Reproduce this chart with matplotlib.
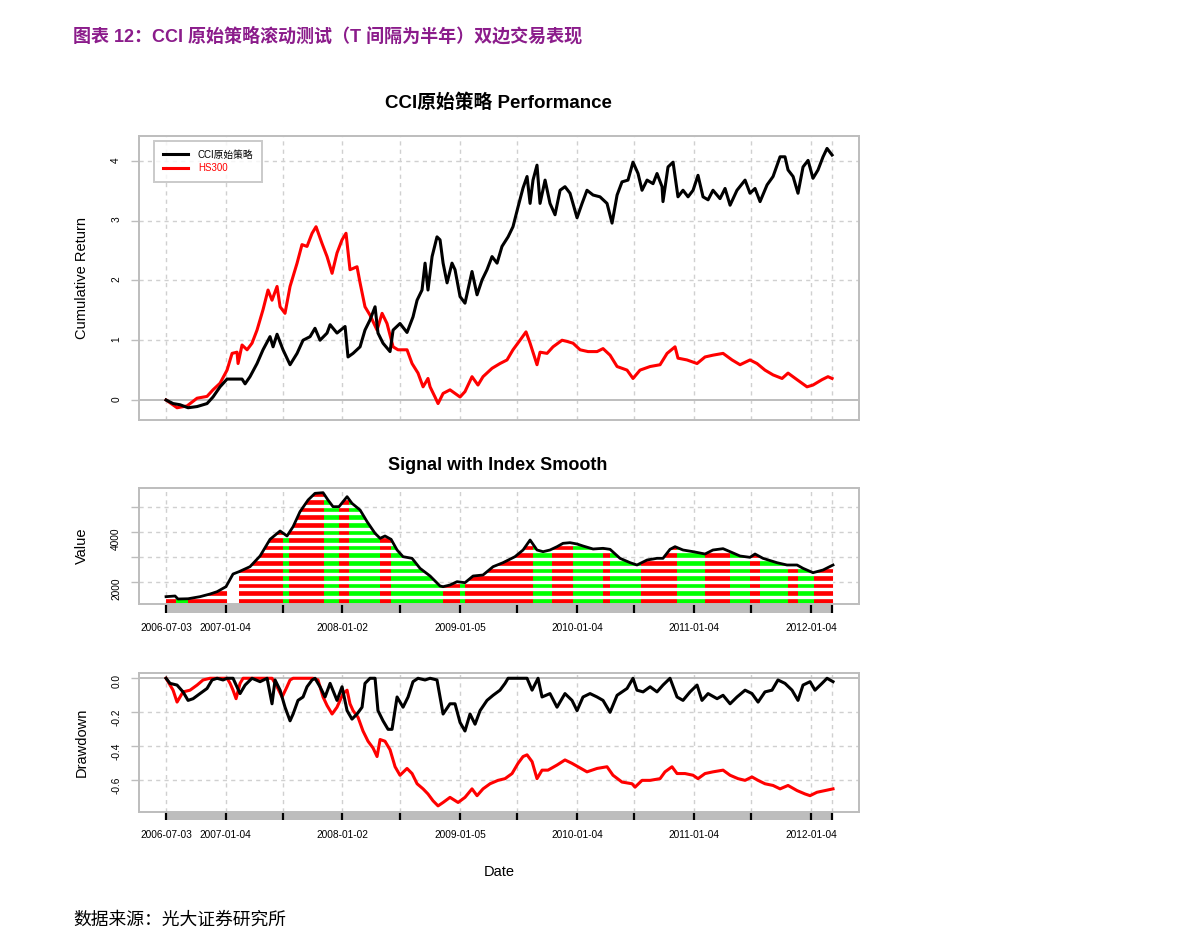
import datetime as dt
import numpy as np
import matplotlib
matplotlib.use("Agg")
import matplotlib.pyplot as plt
import matplotlib.transforms as mtransforms
from matplotlib.patches import Rectangle
from matplotlib.lines import Line2D

plt.rcParams['font.family'] = ['Liberation Sans', 'Noto Sans CJK SC']

# ---------------- data (time as decimal year) ----------------
cci_cum = [(2006.500, 0.00), (2006.560, -0.06), (2006.620, -0.08), (2006.688, -0.13), (2006.765, -0.11),
           (2006.850, -0.06), (2006.901, 0.05), (2006.961, 0.22), (2007.021, 0.35), (2007.072, 0.35),
           (2007.149, 0.35), (2007.175, 0.27), (2007.217, 0.39), (2007.277, 0.61), (2007.328, 0.84),
           (2007.388, 1.06), (2007.414, 0.89), (2007.448, 1.10), (2007.499, 0.84), (2007.559, 0.59),
           (2007.619, 0.78), (2007.670, 1.00), (2007.730, 1.06), (2007.772, 1.20), (2007.815, 1.00),
           (2007.875, 1.12), (2007.901, 1.26), (2007.960, 1.12), (2008.029, 1.23), (2008.054, 0.72),
           (2008.097, 0.78), (2008.157, 0.89), (2008.199, 1.17), (2008.242, 1.34), (2008.285, 1.56),
           (2008.310, 1.12), (2008.353, 0.95), (2008.413, 0.81), (2008.439, 1.17), (2008.498, 1.28),
           (2008.558, 1.13), (2008.609, 1.39), (2008.644, 1.67), (2008.686, 1.84), (2008.712, 2.29),
           (2008.737, 1.84), (2008.772, 2.40), (2008.814, 2.73), (2008.840, 2.68), (2008.866, 2.29),
           (2008.900, 1.96), (2008.942, 2.29), (2008.968, 2.18), (2009.011, 1.73), (2009.053, 1.62),
           (2009.113, 2.15), (2009.156, 1.76), (2009.199, 2.01), (2009.241, 2.18), (2009.284, 2.40),
           (2009.327, 2.29), (2009.369, 2.57), (2009.421, 2.73), (2009.463, 2.90), (2009.506, 3.23),
           (2009.549, 3.55), (2009.583, 3.74), (2009.609, 3.29), (2009.634, 3.68), (2009.668, 3.93),
           (2009.694, 3.29), (2009.737, 3.68), (2009.779, 3.29), (2009.822, 3.10), (2009.865, 3.51),
           (2009.907, 3.57), (2009.950, 3.46), (2010.010, 3.05), (2010.053, 3.29), (2010.095, 3.51),
           (2010.147, 3.43), (2010.206, 3.40), (2010.266, 3.29), (2010.309, 2.96), (2010.352, 3.43),
           (2010.394, 3.65), (2010.445, 3.68), (2010.488, 3.98), (2010.531, 3.79), (2010.565, 3.51),
           (2010.608, 3.68), (2010.659, 3.62), (2010.693, 3.79), (2010.736, 3.57), (2010.744, 3.32),
           (2010.787, 3.90), (2010.830, 3.98), (2010.872, 3.40), (2010.915, 3.51), (2010.958, 3.40),
           (2011.001, 3.51), (2011.043, 3.76), (2011.086, 3.40), (2011.129, 3.35), (2011.171, 3.51),
           (2011.231, 3.37), (2011.274, 3.54), (2011.317, 3.26), (2011.376, 3.51), (2011.445, 3.68),
           (2011.487, 3.46), (2011.530, 3.54), (2011.573, 3.32), (2011.633, 3.60), (2011.684, 3.74),
           (2011.744, 4.07), (2011.786, 4.07), (2011.812, 3.85), (2011.855, 3.74), (2011.897, 3.46),
           (2011.940, 3.90), (2011.983, 4.01), (2012.025, 3.71), (2012.068, 3.85), (2012.111, 4.07),
           (2012.145, 4.21), (2012.188, 4.10)]

hs300_cum = [(2006.500, 0.00), (2006.594, -0.13), (2006.679, -0.10), (2006.765, 0.03), (2006.850, 0.06),
             (2006.901, 0.17), (2006.961, 0.28), (2007.021, 0.50), (2007.064, 0.78), (2007.106, 0.80),
             (2007.115, 0.61), (2007.149, 0.92), (2007.192, 0.84), (2007.234, 0.95), (2007.277, 1.17),
             (2007.328, 1.51), (2007.371, 1.84), (2007.405, 1.67), (2007.448, 1.90), (2007.474, 1.56),
             (2007.516, 1.45), (2007.559, 1.90), (2007.619, 2.29), (2007.661, 2.60), (2007.704, 2.57),
             (2007.747, 2.79), (2007.781, 2.90), (2007.832, 2.62), (2007.875, 2.40), (2007.918, 2.12),
             (2007.960, 2.46), (2008.003, 2.68), (2008.037, 2.79), (2008.071, 2.18), (2008.131, 2.23),
             (2008.157, 1.96), (2008.199, 1.56), (2008.242, 1.42), (2008.302, 1.17), (2008.345, 1.45),
             (2008.387, 1.28), (2008.439, 0.89), (2008.481, 0.84), (2008.558, 0.84), (2008.601, 0.61),
             (2008.652, 0.45), (2008.695, 0.22), (2008.737, 0.36), (2008.755, 0.22), (2008.797, 0.05),
             (2008.823, -0.06), (2008.866, 0.11), (2008.925, 0.17), (2008.968, 0.11), (2009.011, 0.05),
             (2009.053, 0.14), (2009.113, 0.39), (2009.164, 0.25), (2009.207, 0.39), (2009.284, 0.53),
             (2009.352, 0.61), (2009.412, 0.67), (2009.463, 0.84), (2009.523, 1.00), (2009.574, 1.14),
             (2009.609, 0.95), (2009.668, 0.59), (2009.694, 0.80), (2009.754, 0.78), (2009.805, 0.89),
             (2009.882, 1.00), (2009.925, 0.98), (2009.976, 0.95), (2010.036, 0.84), (2010.104, 0.81),
             (2010.181, 0.81), (2010.232, 0.86), (2010.292, 0.75), (2010.352, 0.56), (2010.437, 0.50),
             (2010.488, 0.36), (2010.548, 0.50), (2010.634, 0.56), (2010.719, 0.59), (2010.779, 0.78),
             (2010.847, 0.89), (2010.872, 0.70), (2010.949, 0.67), (2011.035, 0.61), (2011.103, 0.72),
             (2011.171, 0.75), (2011.257, 0.78), (2011.334, 0.67), (2011.402, 0.59), (2011.487, 0.67),
             (2011.547, 0.61), (2011.615, 0.50), (2011.684, 0.42), (2011.761, 0.36), (2011.812, 0.45),
             (2011.889, 0.34), (2011.974, 0.22), (2012.025, 0.25), (2012.102, 0.34), (2012.153, 0.39),
             (2012.188, 0.36)]

index_smooth = [(2006.500, 1413), (2006.577, 1440), (2006.602, 1320), (2006.688, 1330), (2006.790, 1413),
                (2006.876, 1520), (2006.936, 1613), (2007.012, 1813), (2007.072, 2320), (2007.123, 2413),
                (2007.217, 2613), (2007.303, 3040), (2007.388, 3707), (2007.474, 4040), (2007.533, 3840),
                (2007.585, 4213), (2007.644, 4813), (2007.713, 5280), (2007.772, 5547), (2007.841, 5573),
                (2007.883, 5280), (2007.926, 5013), (2007.977, 5013), (2008.046, 5413), (2008.088, 5147),
                (2008.157, 4880), (2008.217, 4413), (2008.285, 3947), (2008.328, 3747), (2008.370, 3840),
                (2008.422, 3707), (2008.473, 3280), (2008.524, 3013), (2008.601, 2947), (2008.669, 2547),
                (2008.755, 2240), (2008.840, 1840), (2008.866, 1813), (2008.925, 1880), (2008.985, 2013),
                (2009.053, 1973), (2009.122, 2240), (2009.207, 2280), (2009.293, 2613), (2009.378, 2773),
                (2009.480, 3013), (2009.549, 3280), (2009.609, 3680), (2009.668, 3280), (2009.720, 3213),
                (2009.779, 3280), (2009.839, 3413), (2009.890, 3547), (2009.950, 3573), (2010.010, 3520),
                (2010.061, 3440), (2010.147, 3320), (2010.232, 3347), (2010.292, 3307), (2010.377, 2947),
                (2010.463, 2773), (2010.522, 2680), (2010.608, 2880), (2010.693, 2947), (2010.744, 2947),
                (2010.804, 3307), (2010.847, 3413), (2010.915, 3280), (2011.001, 3213), (2011.103, 3120),
                (2011.171, 3280), (2011.257, 3333), (2011.317, 3213), (2011.402, 3040), (2011.487, 2987),
                (2011.530, 3120), (2011.598, 2947), (2011.717, 2773), (2011.803, 2680), (2011.889, 2680),
                (2011.940, 2547), (2012.025, 2373), (2012.111, 2480), (2012.196, 2680)]

# signal periods: (start, end, signal)  1 = red, -1 = green
signal_periods = [(2006.500, 2006.585, 1), (2006.585, 2006.688, -1), (2006.688, 2007.021, 1),
                  (2007.123, 2007.499, 1), (2007.499, 2007.550, -1), (2007.550, 2007.849, 1),
                  (2007.849, 2007.977, -1), (2007.977, 2008.063, 1), (2008.063, 2008.328, -1),
                  (2008.328, 2008.422, 1), (2008.422, 2008.866, -1), (2008.866, 2009.011, 1),
                  (2009.011, 2009.053, -1), (2009.053, 2009.634, 1), (2009.634, 2009.796, -1),
                  (2009.796, 2009.976, 1), (2009.976, 2010.232, -1), (2010.232, 2010.292, 1),
                  (2010.292, 2010.557, -1), (2010.557, 2010.864, 1), (2010.864, 2011.103, -1),
                  (2011.103, 2011.317, 1), (2011.317, 2011.487, -1), (2011.487, 2011.573, 1),
                  (2011.573, 2011.812, -1), (2011.812, 2011.897, 1), (2011.897, 2012.034, -1),
                  (2012.034, 2012.196, 1)]

cci_dd = [(2006.500, 0.00), (2006.534, -0.03), (2006.594, -0.04), (2006.645, -0.08), (2006.688, -0.13),
          (2006.731, -0.12), (2006.790, -0.09), (2006.850, -0.06), (2006.893, -0.01), (2006.936, 0.00),
          (2006.987, -0.01), (2007.021, 0.00), (2007.072, 0.00), (2007.132, -0.09), (2007.175, -0.04),
          (2007.234, 0.00), (2007.303, -0.02), (2007.363, 0.00), (2007.405, -0.15), (2007.431, -0.01),
          (2007.474, -0.07), (2007.516, -0.17), (2007.559, -0.25), (2007.585, -0.21), (2007.627, -0.13),
          (2007.670, -0.11), (2007.704, -0.05), (2007.747, -0.01), (2007.772, 0.00), (2007.815, -0.05),
          (2007.858, -0.11), (2007.901, -0.03), (2007.960, -0.13), (2008.003, -0.05), (2008.046, -0.19),
          (2008.088, -0.24), (2008.131, -0.21), (2008.174, -0.17), (2008.199, -0.03), (2008.242, 0.00),
          (2008.285, 0.00), (2008.310, -0.19), (2008.353, -0.25), (2008.396, -0.30), (2008.430, -0.30),
          (2008.473, -0.11), (2008.524, -0.17), (2008.567, -0.11), (2008.609, -0.02), (2008.652, 0.00),
          (2008.712, -0.01), (2008.755, 0.00), (2008.814, -0.01), (2008.866, -0.21), (2008.925, -0.15),
          (2008.968, -0.15), (2009.011, -0.26), (2009.053, -0.31), (2009.096, -0.21), (2009.139, -0.27),
          (2009.182, -0.19), (2009.241, -0.13), (2009.293, -0.10), (2009.352, -0.07), (2009.395, -0.03),
          (2009.421, 0.00), (2009.498, 0.00), (2009.583, 0.00), (2009.626, -0.07), (2009.677, 0.00),
          (2009.711, -0.11), (2009.779, -0.09), (2009.839, -0.17), (2009.907, -0.09), (2009.967, -0.13),
          (2010.010, -0.19), (2010.061, -0.11), (2010.121, -0.09), (2010.181, -0.11), (2010.232, -0.13),
          (2010.292, -0.20), (2010.352, -0.10), (2010.437, -0.06), (2010.488, 0.00), (2010.522, -0.07),
          (2010.574, -0.08), (2010.634, -0.05), (2010.693, -0.08), (2010.744, -0.04), (2010.804, 0.00),
          (2010.864, -0.11), (2010.915, -0.13), (2010.975, -0.08), (2011.035, -0.04), (2011.077, -0.13),
          (2011.129, -0.09), (2011.206, -0.12), (2011.257, -0.10), (2011.317, -0.15), (2011.376, -0.11),
          (2011.445, -0.07), (2011.504, -0.09), (2011.556, -0.14), (2011.615, -0.08), (2011.675, -0.07),
          (2011.726, -0.01), (2011.786, -0.03), (2011.846, -0.07), (2011.897, -0.13), (2011.940, -0.04),
          (2012.000, -0.02), (2012.042, -0.07), (2012.102, -0.03), (2012.145, 0.00), (2012.196, -0.02)]

hs300_dd = [(2006.500, 0.00), (2006.560, -0.07), (2006.594, -0.14), (2006.645, -0.08), (2006.705, -0.07),
            (2006.765, -0.04), (2006.816, -0.01), (2006.876, 0.00), (2007.021, 0.00), (2007.047, -0.03),
            (2007.072, -0.07), (2007.098, -0.12), (2007.132, -0.03), (2007.158, 0.00), (2007.405, 0.00),
            (2007.448, -0.05), (2007.491, -0.11), (2007.533, -0.05), (2007.559, -0.01), (2007.585, 0.00),
            (2007.755, 0.00), (2007.798, -0.01), (2007.841, -0.11), (2007.875, -0.16), (2007.918, -0.21),
            (2007.960, -0.17), (2008.012, -0.09), (2008.046, -0.07), (2008.071, -0.15), (2008.097, -0.19),
            (2008.140, -0.23), (2008.182, -0.31), (2008.225, -0.37), (2008.268, -0.41), (2008.302, -0.46),
            (2008.328, -0.36), (2008.370, -0.37), (2008.413, -0.42), (2008.456, -0.52), (2008.498, -0.57),
            (2008.558, -0.53), (2008.601, -0.56), (2008.644, -0.62), (2008.695, -0.65), (2008.737, -0.68),
            (2008.780, -0.72), (2008.823, -0.75), (2008.866, -0.73), (2008.925, -0.70), (2008.994, -0.73),
            (2009.053, -0.70), (2009.113, -0.65), (2009.156, -0.69), (2009.207, -0.65), (2009.267, -0.62),
            (2009.335, -0.60), (2009.395, -0.59), (2009.455, -0.56), (2009.506, -0.50), (2009.549, -0.46),
            (2009.583, -0.45), (2009.626, -0.49), (2009.668, -0.59), (2009.711, -0.54), (2009.762, -0.54),
            (2009.839, -0.51), (2009.907, -0.48), (2009.967, -0.50), (2010.018, -0.52), (2010.095, -0.55),
            (2010.181, -0.53), (2010.266, -0.52), (2010.317, -0.57), (2010.394, -0.61), (2010.480, -0.62),
            (2010.505, -0.64), (2010.565, -0.60), (2010.634, -0.60), (2010.719, -0.59), (2010.761, -0.55),
            (2010.821, -0.52), (2010.864, -0.56), (2010.932, -0.56), (2011.001, -0.57), (2011.043, -0.59),
            (2011.103, -0.56), (2011.171, -0.55), (2011.257, -0.54), (2011.317, -0.57), (2011.385, -0.59),
            (2011.445, -0.60), (2011.504, -0.58), (2011.556, -0.60), (2011.615, -0.62), (2011.684, -0.63),
            (2011.744, -0.65), (2011.812, -0.63), (2011.889, -0.66), (2011.957, -0.68), (2012.000, -0.69),
            (2012.059, -0.67), (2012.128, -0.66), (2012.196, -0.65)]

tick_dates = ['2006-07-03', '2007-01-04', '2007-07-02', '2008-01-02', '2008-07-01', '2009-01-05',
              '2009-07-01', '2010-01-04', '2010-07-01', '2011-01-04', '2011-07-01', '2012-01-04', '2012-03-09']
label_dates = ['2006-07-03', '2007-01-04', '2008-01-02', '2009-01-05', '2010-01-04', '2011-01-04', '2012-01-04']

series_names = ['CCI原始策略', 'HS300']
series_colors = ['black', 'red']


def dec_year(s):
    d = dt.date.fromisoformat(s)
    start = dt.date(d.year, 1, 1)
    n = (dt.date(d.year + 1, 1, 1) - start).days
    return d.year + (d - start).days / n


def unzip(pairs):
    a = np.array(pairs, dtype=float)
    return a[:, 0], a[:, 1]


tick_t = [dec_year(d) for d in tick_dates]

# ---------------- figure ----------------
W, H = 1191, 952
fig = plt.figure(figsize=(W / 100, H / 100), dpi=100)


def axes_px(x0, y0, x1, y1):
    return fig.add_axes([x0 / W, 1 - y1 / H, (x1 - x0) / W, (y1 - y0) / H])


ax1 = axes_px(139, 136, 859, 420)
ax2 = axes_px(139, 488, 859, 604)
ax3 = axes_px(139, 673, 859, 812)

XLIM = (2006.269, 2012.418)
GRID = '#D0D0D0'
FRAME = '#BDBDBD'
DASH = (0, (3, 3))


def style(ax, yticks, ylabels, ygrid):
    ax.set_xlim(*XLIM)
    for s in ax.spines.values():
        s.set_color(FRAME)
        s.set_linewidth(1.4)
    ax.set_xticks([])
    ax.set_yticks(yticks)
    ax.set_yticklabels(ylabels)
    ax.tick_params(axis='y', length=5.8, width=1, color=FRAME, labelsize=7.3, pad=7,
                   labelrotation=90)
    for t in tick_t:
        ax.axvline(t, color=GRID, lw=1, ls=DASH, zorder=0)
    for y in ygrid:
        ax.axhline(y, color=GRID, lw=1, ls=DASH, zorder=0)


def date_axis(ax, band_frac, label_y):
    trans = mtransforms.blended_transform_factory(ax.transData, ax.transAxes)
    ax.add_patch(Rectangle((tick_t[0], -band_frac), tick_t[-1] - tick_t[0], band_frac,
                           transform=trans, facecolor='#BDBDBD', lw=0, clip_on=False))
    for t in tick_t:
        ax.plot([t, t], [-band_frac, 0], transform=trans, color='black', lw=1.6,
                clip_on=False, solid_capstyle='butt')
    for d in label_dates:
        ax.text(dec_year(d), label_y, d, transform=trans, ha='center', va='center',
                fontsize=7.3, clip_on=False)


# ---- Panel 1: performance ----
style(ax1, [0, 1, 2, 3, 4], ['0', '1', '2', '3', '4'], [1, 2, 3, 4])
ax1.set_ylim(-0.335, 4.418)
ax1.axhline(0, color=FRAME, lw=1.4, zorder=1)
t, v = unzip(hs300_cum)
ax1.plot(t, v, color='red', lw=2.2, zorder=3)
t, v = unzip(cci_cum)
ax1.plot(t, v, color='black', lw=2.2, zorder=4)
handles = [Line2D([], [], color=c, lw=2.2) for c in series_colors]
leg = ax1.legend(handles, series_names, loc='upper left', bbox_to_anchor=(0.021, 0.982),
                 borderaxespad=0, fontsize=7, frameon=True, fancybox=False, edgecolor=FRAME,
                 handlelength=2.6, labelcolor=series_colors, borderpad=0.9, labelspacing=0.35,
                 handletextpad=1.0)
leg.get_frame().set_linewidth(1.4)

# ---- Panel 2: signal with index smooth ----
style(ax2, [2000, 3000, 4000, 5000], ['2000', '', '4000', ''], [2000, 3000, 4000, 5000])
ax2.set_ylim(1120, 5760)
t, v = unzip(index_smooth)
area = ax2.fill_between(t, 0, v, facecolor='none', edgecolor='none', lw=0)
clip = area.get_paths()[0]
for a, b, s in signal_periods:
    r = ax2.axvspan(a, b, color='#FF0000' if s > 0 else '#00FF00', lw=0, zorder=2)
    r.set_clip_path(clip, ax2.transData)
for y in np.arange(1400, 6000, 304):
    ln = ax2.axhline(y, color='white', lw=2.4, zorder=3)
    ln.set_clip_path(clip, ax2.transData)
ax2.plot(t, v, color='black', lw=2.0, zorder=4)
date_axis(ax2, 9 / 116, -24 / 116)

# ---- Panel 3: drawdown ----
style(ax3, [0, -0.2, -0.4, -0.6], ['0.0', '-0.2', '-0.4', '-0.6'], [-0.2, -0.4, -0.6])
ax3.set_ylim(-0.786, 0.031)
ax3.axhline(0, color=FRAME, lw=1.4, zorder=1)
t, v = unzip(hs300_dd)
ax3.plot(t, v, color='red', lw=2.2, zorder=3)
t, v = unzip(cci_dd)
ax3.plot(t, v, color='black', lw=2.2, zorder=4)
date_axis(ax3, 8 / 139, -23 / 139)

# ---- texts ----
fig.text(73 / W, 1 - 36 / H, '图表 12：CCI 原始策略滚动测试（T 间隔为半年）双边交易表现',
         color='#8B1C8B', fontsize=13, fontweight='bold', ha='left', va='center')
fig.text(498 / W, 1 - 103 / H, 'CCI原始策略 Performance', fontsize=13.5, fontweight='bold',
         ha='center', va='center')
fig.text(498 / W, 1 - 465 / H, 'Signal with Index Smooth', fontsize=13, fontweight='bold',
         ha='center', va='center')
fig.text(82 / W, 1 - 278 / H, 'Cumulative Return', rotation=90, fontsize=10.5, ha='center', va='center')
fig.text(82 / W, 1 - 546 / H, 'Value', rotation=90, fontsize=10.5, ha='center', va='center')
fig.text(82 / W, 1 - 742 / H, 'Drawdown', rotation=90, fontsize=10.5, ha='center', va='center')
fig.text(499 / W, 1 - 872 / H, 'Date', fontsize=10.5, ha='center', va='center')
fig.text(73 / W, 1 - 920 / H, '数据来源：光大证券研究所', fontsize=12.8, ha='left', va='center')

fig.savefig('out.png', dpi=100)
